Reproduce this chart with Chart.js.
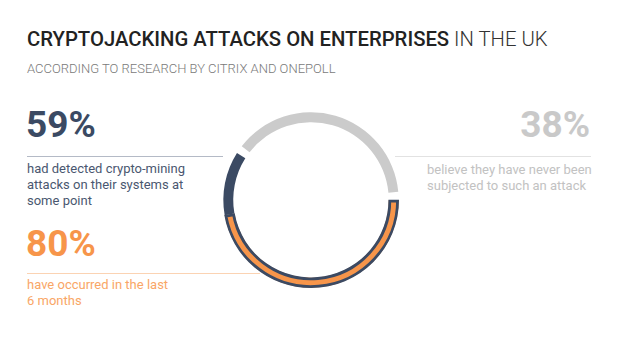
<!DOCTYPE html>
<html>
<head>
<meta charset="utf-8">
<script src="https://cdn.jsdelivr.net/npm/chart.js@4.4.1/dist/chart.umd.min.js"></script>
<style>
  html, body { margin: 0; padding: 0; background: #fff; }
  body { width: 624px; height: 345px; position: relative; overflow: hidden; font-family: Roboto, "Noto Sans", sans-serif; }
  .abs { position: absolute; white-space: nowrap; }
  .title { left: 27px; top: 29px; font-size: 20.3px; line-height: 20px; color: #222; font-weight: 500; }
  .title span { font-weight: 300; color: #333; }
  .sub { left: 27px; top: 61.5px; font-size: 13px; line-height: 13px; color: #7a7a7a; font-weight: 300; }
  .big { font-size: 37px; line-height: 37px; font-weight: 700; }
  .body { font-size: 13px; line-height: 16px; }
  .rule { position: absolute; height: 1px; }
  #wrap { position: absolute; left: 221px; top: 110px; width: 180px; height: 180px; }
</style>
</head>
<body>
<div class="abs title">CRYPTOJACKING ATTACKS ON ENTERPRISES<span> IN THE UK</span></div>
<div class="abs sub">ACCORDING TO RESEARCH BY CITRIX AND ONEPOLL</div>

<div class="abs big" id="detectedPct" style="left:26px; top:106px; color:#3b4a63;"></div>
<div class="rule" style="left:27px; top:156px; width:196px; background:#b4bac6;"></div>
<div class="abs body" style="left:27px; top:160.5px; color:#4a5770;">had detected crypto-mining<br>attacks on their systems at<br>some point</div>

<div class="abs big" id="recentPct" style="left:26px; top:224.5px; color:#f7954a;"></div>
<div class="rule" style="left:27px; top:273px; width:233px; background:#fbd3b3;"></div>
<div class="abs body" style="left:27px; top:276.5px; color:#f9a666;">have occurred in the last<br>6 months</div>

<div class="abs big" id="neverPct" style="right:34px; top:106px; color:#c9c9c9;"></div>
<div class="rule" style="left:395px; top:156px; width:196px; background:#e2e2e2;"></div>
<div class="abs body" style="left:427px; top:161.5px; color:#c2c2c2;">believe they have never been<br>subjected to such an attack</div>

<div id="wrap"><canvas id="ring"></canvas></div>

<script>
// shares of UK enterprises (%)
const shareLabels = ['Detected crypto-mining attacks', 'Never subjected to an attack'];
const shareValues = [59, 38];
// of the detected attacks, share that occurred in the last 6 months (%)
const recentShare = 80;

const navy = '#3b4a63';
const orange = '#f7954a';
const grey = '#cbcbcb';

document.getElementById('detectedPct').textContent = shareValues[0] + '%';
document.getElementById('neverPct').textContent = shareValues[1] + '%';
document.getElementById('recentPct').textContent = recentShare + '%';

// split the detected share into recent / older, with small gaps for the rest
const recentPart = shareValues[0] * recentShare / 100;
const olderPart = shareValues[0] - recentPart;
const gap = (100 - shareValues[0] - shareValues[1]) / 2;

new Chart(document.getElementById('ring'), {
  type: 'doughnut',
  data: {
    labels: ['Last 6 months', 'Earlier', '', shareLabels[1], ''],
    datasets: [{
      data: [recentPart, olderPart, gap, shareValues[1], gap],
      backgroundColor: [orange, navy, 'rgba(0,0,0,0)', grey, 'rgba(0,0,0,0)'],
      borderColor: [navy, navy, 'rgba(0,0,0,0)', grey, 'rgba(0,0,0,0)'],
      borderWidth: [2.5, 0, 0, 0, 0],
      borderAlign: 'inner',
      rotation: 90
    }]
  },
  options: {
    responsive: true,
    maintainAspectRatio: false,
    animation: false,
    events: [],
    cutout: '88%',
    layout: { padding: 2 },
    plugins: {
      legend: { display: false },
      tooltip: { enabled: false }
    }
  }
});
</script>
</body>
</html>
